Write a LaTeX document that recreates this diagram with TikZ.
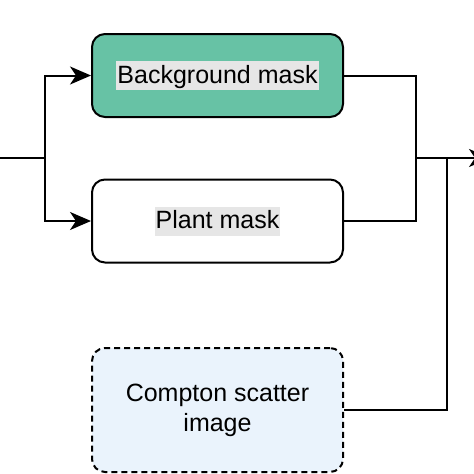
\documentclass[tikz,border=0pt]{standalone}
\usepackage{fontspec}
\setmainfont{Liberation Sans}
\usetikzlibrary{arrows.meta}
\definecolor{bgteal}{HTML}{67C2A5}
\definecolor{hlgray}{HTML}{E6E6E6}
\definecolor{csblue}{HTML}{EAF3FC}
\newcommand{\hltext}[1]{{\setlength{\fboxsep}{1pt}\colorbox{hlgray}{\rule[-6pt]{0pt}{27pt}#1}}}
\begin{document}
\begin{tikzpicture}[x=1pt,y=-1pt,
  box/.style={draw=black, line width=2pt, rounded corners=13pt, minimum width=251pt, minimum height=83pt, inner sep=0pt, align=center, font=\fontsize{25}{30}\selectfont},
  conn/.style={line width=2pt},
  arr/.style={conn, -{Stealth[length=21pt,width=18pt,inset=6pt]}}]
\useasboundingbox (0,0) rectangle (474,474);
\node[box, fill=bgteal] (bg) at (217.5,75.5) {\hltext{Background mask}};
\node[box, fill=white] (pm) at (217.5,221) {\hltext{Plant mask}};
\node[box, fill=csblue, dashed, dash pattern=on 6pt off 4pt, minimum height=124pt] (cs) at (217.5,410) {Compton scatter\\image};
\coordinate (in) at (-2,158);
\coordinate (lj) at (45,158);
\coordinate (rj) at (416,158);
\coordinate (cj) at (447,158);
\coordinate (out) at (490,158);
\draw[conn] (in) -- (lj);
\draw[arr] (lj) |- (bg.west);
\draw[arr] (lj) |- (pm.west);
\draw[conn] (bg.east) -| (rj);
\draw[conn] (pm.east) -| (rj);
\draw[arr] (rj) -- (out);
\draw[conn] (cs.east) -| (cj);
\end{tikzpicture}
\end{document}
